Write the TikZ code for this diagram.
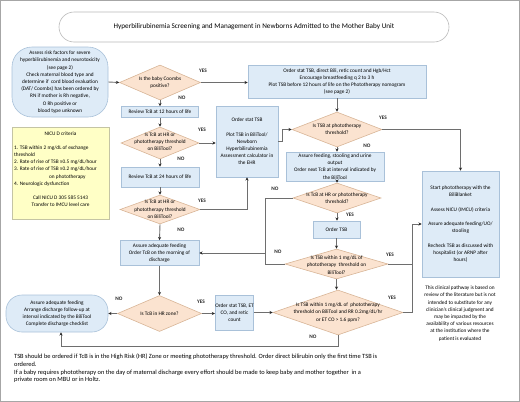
\documentclass[tikz,border=0pt]{standalone}
\usepackage{fontspec}
\setmainfont{Carlito}
\usetikzlibrary{shapes.geometric,arrows.meta}
\definecolor{bfill}{HTML}{DEEBF7}
\definecolor{bdraw}{HTML}{A9C1D9}
\definecolor{dfill}{HTML}{FBE3D0}
\definecolor{ddraw}{HTML}{D8B597}
\definecolor{yfill}{HTML}{FFFFC6}
\definecolor{ydraw}{HTML}{C4C4A4}
\definecolor{lcol}{HTML}{6E6E6E}
\definecolor{tipcol}{HTML}{262626}
\newcommand\smallsz{\fontsize{5.3}{7.2}\selectfont}
\begin{document}
\begin{tikzpicture}[x=1pt,y=-1pt,
  bx/.style={draw=bdraw,fill=bfill,line width=0.6pt,inner sep=0pt,align=center,font=\smallsz},
  dia/.style={shape=diamond,draw=ddraw,fill=dfill,line width=0.6pt,inner sep=0pt},
  dtxt/.style={inner sep=0pt,align=center,font=\smallsz},
  ln/.style={draw=lcol,line width=0.9pt},
  ar/.style={ln,-{Stealth[length=3.2pt,width=3pt,color=tipcol]}},
  lab/.style={font=\fontsize{5.3}{6}\selectfont\bfseries,inner sep=0pt,text=black!85}
]
\useasboundingbox (0,0) rectangle (520,402);
\draw[gray!70,line width=0.8pt] (0.4,0.4) rectangle (519.6,401.6);

% title
\node[draw=gray!55,line width=0.6pt,rounded corners=15pt,minimum width=390pt,minimum height=30pt,inner sep=0pt,font=\fontsize{7.2}{8}\selectfont] (title) at (254,27) {Hyperbilirubinemia Screening and Management in Newborns Admitted to the Mother Baby Unit};

% left column
\node[bx,rounded corners=20pt,minimum width=96pt,minimum height=70pt] (risk) at (60,82) {Assess risk factors for severe\\hyperbilirubinemia and neurotoxicity\\(see page 2)\\Check maternal blood type and\\determine if\ \ cord blood evaluation\\(DAT/ Coombs) has been ordered by\\RN if mother is Rh negative,\\O Rh positive or\\blood type unknown};

\node[dia,minimum width=81pt,minimum height=35pt] (coombs) at (160,82.5) {};
\node[dtxt] (coombs-t) at (160,82.5) {Is the baby Coombs\\positive?};

\node[bx,minimum width=77pt,minimum height=11pt] (rev12) at (160,112) {Review TcB at 12 hours of life};

\node[dia,minimum width=78pt,minimum height=32pt] (dia1) at (160,143) {};
\node[dtxt] (dia1-t) at (160,142) {Is TcB at HR or\\phototherapy threshold\\on BiliTool?};

\node[bx,minimum width=78pt,minimum height=20pt] (rev24) at (160,177) {Review TcB at 24 hours of life};

\node[dia,minimum width=80pt,minimum height=29pt] (dia2) at (160,209.5) {};
\node[dtxt] (dia2-t) at (160,209.5) {Is TcB at HR or\\phototherapy threshold\\on BiliTool?};

\node[bx,minimum width=79pt,minimum height=25pt] (feed) at (159.5,253) {Assure adequate feeding\\Order TcB on the morning of\\discharge};

\node[dia,minimum width=84pt,minimum height=36pt] (hrzone) at (159.5,313.5) {};
\node[dtxt] (hrzone-t) at (159.5,313.5) {Is TcB in HR zone?};

\node[bx,rounded corners=16pt,minimum width=102pt,minimum height=37pt] (discharge) at (57,313.5) {Assure adequate feeding\\Arrange discharge follow-up at\\interval indicated by the BiliTool\\Complete discharge checklist};

% NICU box
\node[draw=ydraw,fill=yfill,line width=0.6pt,minimum width=97pt,minimum height=92pt,inner sep=0pt] (nicu) at (60.5,173) {};
\node[dtxt] (nicu-h) at (60.5,134) {NICU D criteria};
\node[inner sep=0pt,align=left,font=\smallsz,anchor=west] (nicu-l) at (14,166) {1. TSB within 2 mg/dL of exchange\\threshold\\2. Rate of rise of TSB ≥0.5 mg/dL/hour\\3. Rate of rise of TSB ≥0.2 mg/dL/hour\\\hspace*{35pt}on phototherapy\\4. Neurologic dysfunction};
\node[dtxt] (nicu-c) at (60.5,201.5) {Call NICU D 305 585 5143\\Transfer to IMCU level care};

% middle
\node[bx,minimum width=178pt,minimum height=33pt] (ordertop) at (337,81.5) {Order stat TSB, direct Bili, retic count and Hgb/Hct\\Encourage breastfeeding q 2 to 3 h\\Plot TSB before 12 hours of life on the Phototherapy nomogram\\(see page 2)};

\node[bx,minimum width=62pt,minimum height=71pt] (ordstat) at (247,141.5) {Order stat TSB\\[7.2pt]Plot TSB in BiliTool/\\Newborn\\Hyperbilirubinemia\\Assessment calculator in\\the EHR};

\node[dia,minimum width=90pt,minimum height=35pt] (tsbdia) at (337,129.5) {};
\node[dtxt] (tsbdia-t) at (337,129.5) {Is TSB at phototherapy\\threshold?};

\node[bx,minimum width=98pt,minimum height=29pt] (assure) at (335,166.5) {Assure feeding, stooling and urine\\output\\Order next TcB at interval indicated by\\the BiliTool};

\node[dia,minimum width=88pt,minimum height=30pt] (tcbdia) at (337,198) {};
\node[dtxt] (tcbdia-t) at (337,198) {Is TcB at HR or phototherapy\\threshold?};

\node[bx,minimum width=47pt,minimum height=17pt] (ordtsb) at (336.5,229.5) {Order TSB};

\node[dia,minimum width=103pt,minimum height=30pt] (within) at (336.5,264) {};
\node[dtxt] (within-t) at (336.5,265) {Is TSB within 1 mg/dL of\\phototherapy\ \ threshold on\\BiliTool?};

\node[bx,minimum width=37pt,minimum height=35pt] (etco) at (234.5,312.5) {Order stat TSB, ET\\CO, and retic\\count};

\node[dia,minimum width=130pt,minimum height=45pt] (bigdia) at (338,312.5) {};
\node[dtxt] (bigdia-t) at (338,312.5) {Is TSB within 1 mg/dL of\ \ phototherapy\\threshold on BiliTool and RR 0.2mg/dL/hr\\or ET CO > 1.6 ppm?};

% right
\node[bx,minimum width=77pt,minimum height=106pt] (rightbox) at (460.5,224) {Start phototherapy with the\\BiliBlanket\\[7.2pt]Assess NICU (IMCU) criteria\\[7.2pt]Assure adequate feeding/UO/\\stooling\\[7.2pt]Recheck TSB as discussed with\\hospitalist (or ARNP after\\hours)};

\node[dtxt] (note) at (460,313.5) {This clinical pathway is based on\\review of the literature but is not\\intended to substitute for any\\clinician's clinical judgment and\\may be impacted by the\\availability of various resources\\at the institution where the\\patient is evaluated};

% footer
\node[inner sep=0pt,align=left,anchor=west,font=\fontsize{6.4}{7.7}\selectfont] (foot) at (14,368.5) {TSB should be ordered if TcB is in the High Risk (HR) Zone or meeting phototherapy threshold. Order direct bilirubin only the first time TSB is\\ordered.\\If a baby requires phototherapy on the day of maternal discharge every effort should be made to keep baby and mother together\ \ in a\\private room on MBU or in Holtz.};

% junction coordinates
\coordinate (jn) at (265,253);
\coordinate (jr) at (412,224);
\coordinate (jb) at (61,346);

% connectors
\draw[ar] (risk.east) -- (coombs.west);
\draw[ar] (coombs.east) -- (ordertop.west |- coombs.east);
\draw[ar] (coombs.south) -- (rev12.north);
\draw[ar] (rev12.south) -- (dia1.north);
\draw[ar] (dia1.east) -- (ordstat.west |- dia1.east);
\draw[ar] (dia1.south) -- (rev24.north);
\draw[ar] (rev24.south) -- (dia2.north);
\draw[ar] (dia2.east) -| (ordstat.south);
\draw[ar] (dia2.south) -- (feed.north);
\draw[ar] (feed.south) -- (hrzone.north);
\draw[ar] (hrzone.west) -- (discharge.east |- hrzone.west);
\draw[ar] (hrzone.east) -- (etco.west |- hrzone.east);
\draw[ar] (etco.east) -- (bigdia.west);
\draw[ar] (ordertop.south -| tsbdia.north) -- (tsbdia.north);
\draw[ar] (ordstat.east) -- ++(4,0) |- (tsbdia.west);
\draw[ar] (tsbdia.east) -| (rightbox.north);
\draw[ar] (tsbdia.south) -- (assure.north -| tsbdia.south);
\draw[ar] (assure.south -| tcbdia.north) -- (tcbdia.north);
\draw[ar] (tcbdia.south) -- (ordtsb.north -| tcbdia.south);
\draw[ar] (ordtsb.south) -- (within.north);
\draw[ar] (within.south) -- (bigdia.north -| within.south);
\draw[ln] (tcbdia.west) -| (jn);
\draw[ln] (within.west) -| (jn);
\draw[ar] (jn) -- (feed.east);
\draw[ln] (within.east) -| (jr);
\draw[ln] (bigdia.east) -| (jr);
\draw[ar] (jr) -- (rightbox.west);
\draw[ar] (bigdia.south) |- (jb) -- (jb |- discharge.south);

% labels
\node[lab] (l1) at (203,71) {YES};
\node[lab] (l2) at (182,98) {NO};
\node[lab] (l3) at (202,130) {YES};
\node[lab] (l4) at (181,159) {NO};
\node[lab] (l5) at (202,201) {YES};
\node[lab] (l6) at (181,230) {NO};
\node[lab] (l7) at (119,299) {NO};
\node[lab] (l8) at (201,302) {YES};
\node[lab] (l9) at (383,118) {YES};
\node[lab] (l10) at (367,146) {NO};
\node[lab] (l11) at (275,189) {NO};
\node[lab] (l12) at (350,215) {YES};
\node[lab] (l13) at (278,252) {NO};
\node[lab] (l14) at (390,255) {YES};
\node[lab] (l15) at (392,298) {YES};
\node[lab] (l16) at (313,337) {NO};
\end{tikzpicture}
\end{document}
